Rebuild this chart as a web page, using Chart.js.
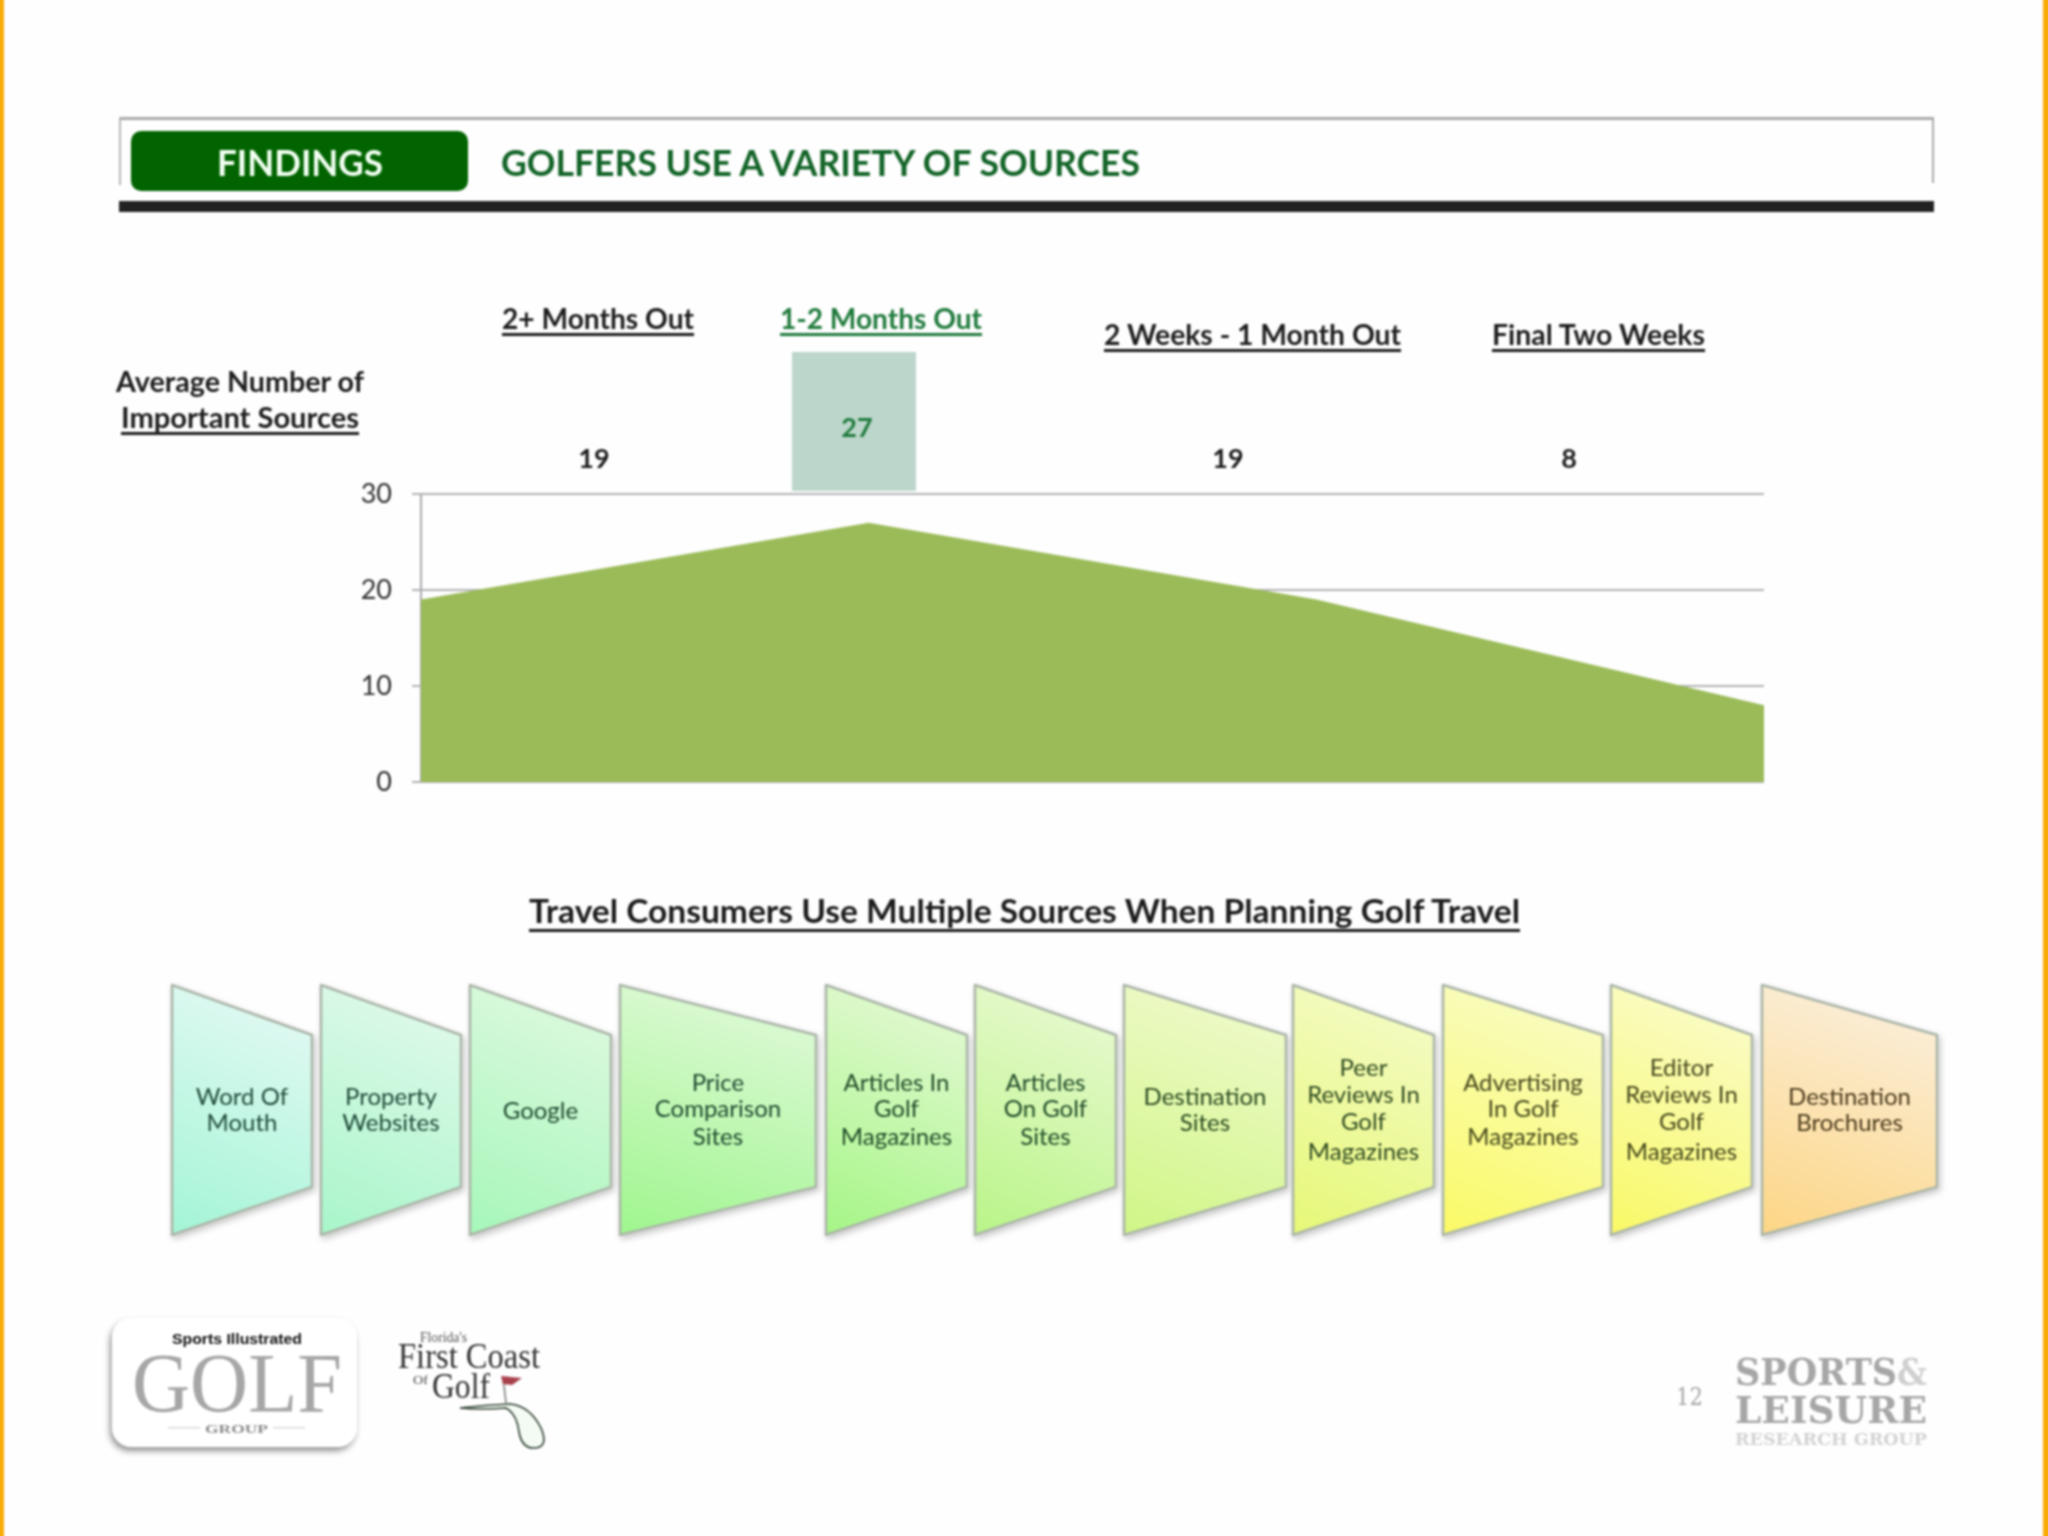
<!DOCTYPE html>
<html><head><meta charset="utf-8">
<script src="https://cdn.jsdelivr.net/npm/chart.js@4"></script>
<style>
html,body{margin:0;padding:0;width:2048px;height:1536px;background:#fefefe;overflow:hidden}
#stage{position:absolute;left:0;top:0;width:2048px;height:1536px;filter:blur(.9px)}
#deco{position:absolute;left:0;top:0}
#area{position:absolute;left:340px;top:440px}
.edge{position:absolute;top:-5px;height:1546px;background:#f8ab06}
</style></head>
<body>
<div id="stage">
<div class="edge" style="left:-3px;width:7px"></div>
<div class="edge" style="right:-3px;width:8px"></div>
<svg id="deco" width="2048" height="1536" xmlns="http://www.w3.org/2000/svg"></svg>
<canvas id="area" width="1434" height="430"></canvas>
</div>
<script>
// ---- data ----
const periods = ["2+ Months Out", "1-2 Months Out", "2 Weeks - 1 Month Out", "Final Two Weeks"];
const averageSources = [19, 27, 19, 8];
const yTicks = [0, 10, 20, 30];
const sources = [
  ["Word Of","Mouth"],["Property","Websites"],["Google"],["Price","Comparison","Sites"],
  ["Articles In","Golf","Magazines"],["Articles","On Golf","Sites"],["Destination","Sites"],
  ["Peer","Reviews In","Golf","Magazines"],["Advertising","In Golf","Magazines"],
  ["Editor","Reviews In","Golf","Magazines"],["Destination","Brochures"]
];
const headerTag = "FINDINGS";
const headerTitle = "GOLFERS USE A VARIETY OF SOURCES";
const axisCaption = ["Average Number of", "Important Sources"];
const lowerTitle = "Travel Consumers Use Multiple Sources When Planning Golf Travel";
const pageNumber = "12";

// ---- layout and styling ----
const periodLayout = [[502,694,329,"#1c1c1c"],[780,982,329,"#1f7a3c"],[1104,1401,345,"#1c1c1c"],[1492,1705,345,"#1c1c1c"]];
const valueLayout = [[594,468,"#1c1c1c"],[857,437,"#1f7a3c"],[1228,468,"#1c1c1c"],[1569,468,"#1c1c1c"]];
const chevX = [[172,312],[321,461],[470,611],[620,816],[826,967],[975,1116],[1124,1286],[1293,1434],[1443,1603],[1611,1752],[1762,1937]];
const chevFill = [["#def9f1","#a3f5d6"],["#dcf9e8","#a8f6ca"],["#d9f9dc","#a6f7ba"],["#daf9d2","#9ff68e"],["#dff9cd","#a5f686"],
  ["#e5f9ca","#b9f588"],["#edfac6","#d0f686"],["#f4fbc0","#e6f876"],["#f9fcbd","#fbfa66"],["#fafcc2","#f9f966"],["#fbedd5","#fdd685"]];
const chevInk = ["#1f4a38","#1f4a38","#1f4a30","#1f4a30","#1f4a28","#1f4a28","#2a4a20","#2f4a20","#45481c","#45481c","#4a3a1c"];
const lineY = {1:[1110],2:[1096,1122],3:[1082,1108,1136],4:[1067,1094,1121,1151]};
const plotBox = {left:81, right:1424, top:54, bottom:342};   // chart area inside the canvas

const NS = "http://www.w3.org/2000/svg";
const deco = document.getElementById("deco");
function el(tag, attrs, parent){
  const e = document.createElementNS(NS, tag);
  for (const k in attrs) e.setAttribute(k, attrs[k]);
  (parent||deco).appendChild(e);
  return e;
}
function rect(x,y,w,h,fill,rx){ return el("rect",{x,y,width:w,height:h,fill,rx:rx||0}); }
function text(str,o){
  const a = {x:o.x, y:o.y, "font-family":o.font||"Lato", "font-size":o.size, fill:o.fill||"#1c1c1c", "font-weight":o.weight||"normal"};
  if (o.x1!==undefined){ a.textLength=o.x1-o.x; a.lengthAdjust="spacingAndGlyphs"; }
  if (o.anchor) a["text-anchor"]=o.anchor;
  const t = el("text",a); t.textContent = str; return t;
}

// header
rect(119,117,1815,3,"#a9a9a9");
rect(119,117,2,68,"#b5b5b5");
rect(1932,117,2,66,"#a9a9a9");
rect(119,201,1815,11,"#222");
rect(131,131,337,60,"#016400",10);
text(headerTag,{x:217,x1:383,y:176,size:36,weight:"bold",fill:"#f2fff2"});
text(headerTitle,{x:501,x1:1140,y:176,size:36,weight:"bold",fill:"#136428"});

// period headings, value labels and highlight
rect(792,352,124,139,"#bcd6cb");
periods.forEach((p,i)=>{
  const [x0,x1,y,c]=periodLayout[i];
  text(p,{x:x0,x1,y,size:28,weight:"bold",fill:c});
  rect(x0,y+4,x1-x0,3,c);
});
averageSources.forEach((v,i)=>{
  const [x,y,c]=valueLayout[i];
  text(String(v),{x,y,size:27,weight:"bold",fill:c,anchor:"middle"});
});
text(axisCaption[0],{x:116,x1:364,y:392,size:28,weight:"bold"});
text(axisCaption[1],{x:121,x1:359,y:428,size:28,weight:"bold"});
rect(121,432,238,3,"#1c1c1c");

// lower title
text(lowerTitle,{x:529,x1:1520,y:923,size:33,weight:"bold"});
rect(529,929,991,3,"#1c1c1c");

// chevrons
const defs = el("defs",{});
const shadow = el("filter",{id:"sh",x:"-10%",y:"-10%",width:"125%",height:"125%"},defs);
el("feDropShadow",{dx:2,dy:3,stdDeviation:3,"flood-color":"#000","flood-opacity":.22},shadow);
sources.forEach((lines,i)=>{
  const [x0,x1]=chevX[i];
  const g = el("linearGradient",{id:"c"+i,x1:0.25,y1:0,x2:0,y2:1},defs);
  el("stop",{offset:"0","stop-color":chevFill[i][0]},g);
  el("stop",{offset:"1","stop-color":chevFill[i][1]},g);
  el("polygon",{points:`${x0},985 ${x1},1035 ${x1},1187 ${x0},1235`,fill:`url(#c${i})`,stroke:"#abb5a8","stroke-width":2.6,"stroke-linejoin":"round",filter:"url(#sh)"});
  const ys = lineY[lines.length];
  lines.forEach((ln,j)=>text(ln,{x:(x0+x1)/2,y:ys[j]+9,size:24,fill:chevInk[i],anchor:"middle"}));
});

// footer logos
const bf = el("filter",{id:"sh2",x:"-10%",y:"-10%",width:"125%",height:"125%"},defs);
el("feDropShadow",{dx:-2,dy:4,stdDeviation:3,"flood-color":"#000","flood-opacity":.42},bf);
el("rect",{x:112,y:1318,width:245,height:129,rx:20,fill:"#ffffff",filter:"url(#sh2)"});
text("Sports Illustrated",{x:172,x1:302,y:1344,size:15,weight:"bold",fill:"#111",font:"Liberation Sans"});
text("GOLF",{x:132,x1:342,y:1412,size:84,fill:"#a6a6a6",font:"Liberation Serif"});
text("GROUP",{x:205,x1:268,y:1433,size:13,weight:"bold",fill:"#8a8a8a",font:"Liberation Serif"});
rect(168,1427,32,1.5,"#d8d8d8"); rect(273,1427,32,1.5,"#d8d8d8");

text("Florida's",{x:420,x1:467,y:1342,size:15,fill:"#555",font:"Liberation Serif"});
text("First Coast",{x:398,x1:540,y:1368,size:36,fill:"#333",font:"Liberation Serif"});
text("Of",{x:413,x1:428,y:1384,size:13,fill:"#444",font:"Liberation Serif"});
text("Golf",{x:432,x1:490,y:1398,size:36,fill:"#333",font:"Liberation Serif"});
el("path",{d:"M460 1408 Q485 1405 510 1404 Q530 1406 541 1428 Q549 1447 535 1448 Q522 1449 519 1432 Q517 1414 506 1408 Q480 1410 460 1408 Z",fill:"#f4fbf4",stroke:"#2d3f30","stroke-width":1.6});
el("path",{d:"M503 1377 L506 1403",stroke:"#777","stroke-width":1.5,fill:"none"});
el("polygon",{points:"501,1376 522,1378 512,1385 503,1384",fill:"#a8404c"});

text(pageNumber,{x:1676,x1:1703,y:1405,size:24,fill:"#a5a5a5",font:"DejaVu Serif"});
text("SPORTS",{x:1735,x1:1897,y:1385,size:38,weight:"bold",fill:"#a6a6a6",font:"DejaVu Serif"});
text("&",{x:1897,x1:1927,y:1385,size:38,weight:"bold",fill:"#cfcfcf",font:"DejaVu Serif"});
text("LEISURE",{x:1735,x1:1927,y:1423,size:38,weight:"bold",fill:"#a6a6a6",font:"DejaVu Serif"});
text("RESEARCH GROUP",{x:1735,x1:1927,y:1445,size:17,weight:"bold",fill:"#d2d2d2",font:"DejaVu Serif"});

// the chart
const pad = {left:0, right:10, top:30, bottom:60};
const chart = new Chart(document.getElementById("area"),{
  type:"line",
  data:{labels:periods,datasets:[{data:averageSources,fill:"origin",backgroundColor:"#9bbb59",borderWidth:0,pointRadius:0,tension:0}]},
  options:{
    responsive:false,animation:false,
    layout:{padding:pad},
    plugins:{legend:{display:false},tooltip:{enabled:false},title:{display:false}},
    scales:{
      x:{display:false},
      y:{min:yTicks[0],max:yTicks[yTicks.length-1],
        afterFit(s){s.width=81;},
        afterBuildTicks(s){s.ticks=yTicks.map(v=>({value:v}));},
        grid:{color:"#b3b3b8",lineWidth:2,tickLength:9},
        border:{display:true,color:"#a9a9ad",width:2},
        ticks:{color:"#2e2e2e",font:{family:"Lato",size:27},padding:20}
      }
    }
  }
});
// settle the chart area onto the reference's plot box
for (let k=0;k<3;k++){
  const a = chart.chartArea;
  chart.options.layout.padding = {
    left: pad.left += plotBox.left-a.left,
    right: pad.right += a.right-plotBox.right,
    top: pad.top += plotBox.top-a.top,
    bottom: pad.bottom += a.bottom-plotBox.bottom
  };
  chart.update("none");
}
</script>
</body></html>
